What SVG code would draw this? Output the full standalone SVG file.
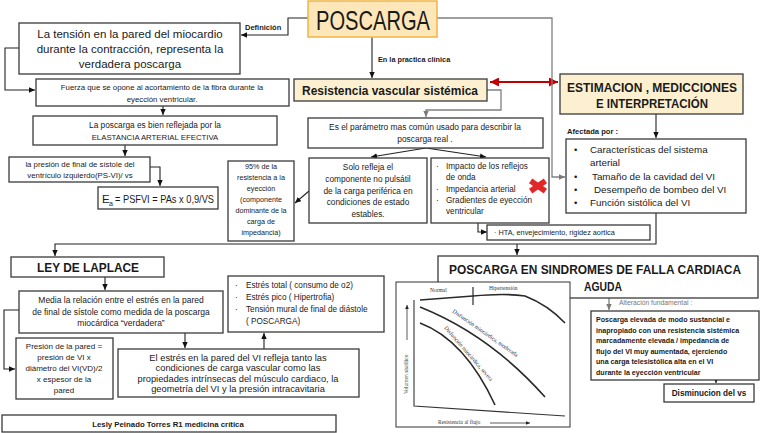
<svg xmlns="http://www.w3.org/2000/svg" width="768" height="433" viewBox="0 0 768 433">
<defs>
<marker id="ah" viewBox="0 0 10 10" refX="10" refY="5" markerWidth="6" markerHeight="6" markerUnits="userSpaceOnUse" orient="auto"><path d="M0,0.5 L10,5 L0,9.5z" fill="#111"/></marker>
<marker id="ahg" viewBox="0 0 10 10" refX="10" refY="5" markerWidth="6" markerHeight="6" markerUnits="userSpaceOnUse" orient="auto"><path d="M0,0.5 L10,5 L0,9.5z" fill="#7a7a7a"/></marker>
<marker id="ahr" viewBox="0 0 10 10" refX="10" refY="5" markerWidth="9" markerHeight="9" markerUnits="userSpaceOnUse" orient="auto-start-reverse"><path d="M0,0 L10,5 L0,10z" fill="#c00000"/></marker>
<marker id="ahs" viewBox="0 0 10 10" refX="10" refY="5" markerWidth="4" markerHeight="4" markerUnits="userSpaceOnUse" orient="auto"><path d="M0,0.5 L10,5 L0,9.5z" fill="#222"/></marker>
<style>
.b{fill:#fff;stroke:#3a3a3a;stroke-width:1.3}
.y{fill:#fdf0d0;stroke:#3a3a3a;stroke-width:1.3}
text{font-family:"Liberation Sans",Arial,sans-serif;fill:#1a1a1a}
.c{text-anchor:middle}
.bd{font-weight:bold}
.ln{fill:none;stroke:#222;stroke-width:1.1}
.lg{fill:none;stroke:#808080;stroke-width:1.3}
.sf{font-family:"Liberation Serif","Times New Roman",serif;fill:#333}
.cv{fill:none;stroke:#2a2a2a;stroke-width:1.6}
</style>
</defs>
<rect x="0" y="0" width="768" height="433" fill="#fff"/>

<g id="connectors">
<path class="ln" d="M308,18 H288 V35 H241" marker-end="url(#ah)"/>
<path class="ln" d="M19,48 H5 V90 H35" marker-end="url(#ah)"/>
<path class="ln" d="M163,106 V115" marker-end="url(#ah)"/>
<path class="ln" d="M125,145 V156" marker-end="url(#ah)"/>
<path class="ln" d="M150,167 H160 V186" marker-end="url(#ah)"/>
<path class="ln" d="M372,37 V78" marker-end="url(#ah)"/>
<path d="M490,82 H558" fill="none" stroke="#c00000" stroke-width="2" marker-start="url(#ahr)" marker-end="url(#ahr)"/>
<path class="lg" d="M437,18 H552 V177 H565" marker-end="url(#ahg)"/>
<path class="lg" d="M487,90 H501 V110 H426 V117" marker-end="url(#ahg)"/>
<path class="ln" d="M426,148 L371,157" marker-end="url(#ah)"/>
<path class="ln" d="M426,148 L486,157" marker-end="url(#ah)"/>
<path class="ln" d="M309,191 L295,203" marker-end="url(#ah)"/>
<path class="ln" d="M478,223 V232 H487" marker-end="url(#ah)"/>
<path class="ln" d="M656,114 V138" marker-end="url(#ah)"/>
<path class="ln" d="M656,213 V244 H55 V256" marker-end="url(#ah)"/>
<path class="ln" d="M517,244 V255" marker-end="url(#ah)"/>
<path class="ln" d="M105,277 V290" marker-end="url(#ah)"/>
<path class="ln" d="M19,310 H4 V369 H15" marker-end="url(#ah)"/>
<path class="ln" d="M185,333 V348" marker-end="url(#ah)"/>
<path class="ln" d="M264,349 V333" marker-end="url(#ah)"/>
<path class="lg" d="M609,298 V310" marker-end="url(#ahg)"/>
<path class="ln" d="M716,374 V383" marker-end="url(#ah)"/>
<text x="245" y="30" font-size="7.5" class="bd">Definición</text>
<text x="378" y="62" font-size="7.3" class="bd">En la  practica clínica</text>
<text x="619" y="305" font-size="6.8" style="fill:#777">Alteración fundamental :</text>
<text x="567" y="134" font-size="7.6" class="bd">Afectada  por :</text>
</g>

<g id="poscarga">
<rect x="308" y="1" width="129" height="36" fill="#fde6b8" stroke="#f2b441" stroke-width="1.5"/>
<text x="373" y="30" font-size="27" class="c" textLength="114" lengthAdjust="spacingAndGlyphs">POSCARGA</text>
</g>

<g id="tension">
<rect class="b" x="19" y="23" width="221" height="51"/>
<text x="130" y="38" font-size="11.5" class="c">La tensión  en la  pared del  miocardio</text>
<text x="130" y="53" font-size="11.5" class="c">durante la contracción, representa la</text>
<text x="130" y="68" font-size="11.5" class="c">verdadera  poscarga</text>
</g>

<g id="fuerza">
<rect class="b" x="36" y="79" width="253" height="27"/>
<text x="162" y="90" font-size="7.8" class="c">Fuerza que se opone al acortamiento de la fibra durante la</text>
<text x="162" y="102" font-size="7.8" class="c">eyección ventricular.</text>
</g>

<g id="elastancia">
<rect class="b" x="33" y="116" width="244" height="29"/>
<text x="155" y="128" font-size="8.3" class="c">La poscarga  es bien reflejada  por la</text>
<text x="155" y="140" font-size="7.8" class="c">ELASTANCIA  ARTERIAL EFECTIVA</text>
</g>

<g id="presion-final">
<rect class="b" x="9" y="157" width="141" height="25"/>
<text x="80" y="167" font-size="7.8" class="c">la presión de  final de sístole del</text>
<text x="80" y="178" font-size="7.8" class="c">ventrículo izquierdo(PS-VI)/ vs</text>
</g>

<g id="ea">
<rect class="b" x="98" y="187" width="120" height="22"/>
<text x="102" y="203" font-size="11.5">E</text>
<text x="109" y="206" font-size="7">a</text>
<text x="115" y="203" font-size="11" textLength="99" lengthAdjust="spacingAndGlyphs">= PSFVI = PAs x 0,9/VS</text>
</g>

<g id="p95">
<rect class="b" x="228" y="161" width="66" height="80"/>
<text x="261" y="169" font-size="7.2" class="c">95% de la</text>
<text x="261" y="180" font-size="7.2" class="c">resistencia a la</text>
<text x="261" y="191" font-size="7.2" class="c">eyección</text>
<text x="261" y="202" font-size="7.2" class="c">(componente</text>
<text x="261" y="213" font-size="7.2" class="c">dominante de la</text>
<text x="261" y="224" font-size="7.2" class="c">carga de</text>
<text x="261" y="235" font-size="7.2" class="c">impedancia)</text>
</g>

<g id="resistencia">
<rect class="y" x="294" y="79" width="193" height="22"/>
<text x="390" y="95" font-size="13.5" class="c bd" textLength="176" lengthAdjust="spacingAndGlyphs">Resistencia vascular sistémica</text>
</g>

<g id="parametro">
<rect class="b" x="308" y="118" width="235" height="30"/>
<text x="425" y="130" font-size="8.4" class="c">Es el parámetro mas común  usado para describir  la</text>
<text x="425" y="142" font-size="8.4" class="c">poscarga  real .</text>
</g>

<g id="solo">
<rect class="b" x="309" y="158" width="118" height="65"/>
<text x="368" y="170" font-size="8.3" class="c">Solo  refleja  el</text>
<text x="368" y="182" font-size="8.3" class="c">componente no pulsátil</text>
<text x="368" y="194" font-size="8.3" class="c">de la carga periférica  en</text>
<text x="368" y="205" font-size="8.3" class="c">condiciones de estado</text>
<text x="368" y="217" font-size="8.3" class="c">estables.</text>
</g>

<g id="impacto">
<rect class="b" x="431" y="158" width="118" height="65"/>
<text x="436" y="169" font-size="8.2">·</text><text x="446" y="169" font-size="8.2">Impacto de los reflejos</text>
<text x="446" y="180" font-size="8.2">de onda</text>
<text x="436" y="192" font-size="8.2">·</text><text x="446" y="192" font-size="8.2">Impedancia arterial</text>
<text x="436" y="203" font-size="8.2">·</text><text x="446" y="203" font-size="8.2">Gradientes de  eyección</text>
<text x="446" y="214" font-size="8.2">ventricular</text>
<g transform="translate(538,186)" fill="#e02828">
<rect x="-9" y="-2.8" width="18" height="5.6" transform="rotate(35)"/>
<rect x="-9" y="-2.8" width="18" height="5.6" transform="rotate(-35)"/>
</g>
</g>

<g id="hta">
<rect class="b" x="487" y="225" width="163" height="15"/>
<text x="494" y="235" font-size="7.3">·  HTA, envejecimiento, rigidez aortica</text>
</g>

<g id="estimacion">
<rect class="y" x="560" y="74" width="183" height="40"/>
<text x="652" y="92" font-size="12.5" class="c bd" textLength="170" lengthAdjust="spacingAndGlyphs">ESTIMACION , MEDICCIONES</text>
<text x="652" y="108" font-size="12.5" class="c bd" textLength="112" lengthAdjust="spacingAndGlyphs">E INTERPRETACIÓN</text>
</g>

<g id="caracteristicas">
<rect class="b" x="566" y="139" width="180" height="74"/>
<text x="574" y="153" font-size="9.5">•</text><text x="590" y="153" font-size="9.8">Características del sistema</text>
<text x="590" y="166" font-size="9.8">arterial</text>
<text x="574" y="180" font-size="9.5">•</text><text x="592" y="180" font-size="9.8">Tamaño de la  cavidad del VI</text>
<text x="574" y="193" font-size="9.5">•</text><text x="594" y="193" font-size="9.8">Desempeño de  bombeo del VI</text>
<text x="574" y="206" font-size="9.5">•</text><text x="590" y="206" font-size="9.8">Función sistólica del VI</text>
</g>

<g id="laplace">
<rect class="b" x="11" y="257" width="153" height="20"/>
<text x="88" y="272" font-size="12.5" class="c bd" textLength="102" lengthAdjust="spacingAndGlyphs">LEY DE LAPLACE</text>
</g>

<g id="sindromes">
<rect class="b" x="438" y="256" width="320" height="42"/>
<text x="595" y="274" font-size="13" class="c bd" textLength="292" lengthAdjust="spacingAndGlyphs">POSCARGA EN SINDROMES DE  FALLA CARDIACA</text>
<text x="603" y="291" font-size="13" class="c bd" textLength="38" lengthAdjust="spacingAndGlyphs">AGUDA</text>
</g>

<g id="grafica">
<rect x="396" y="282" width="174" height="145" fill="#fff" stroke="#333" stroke-width="1"/>
<path d="M414,300 V406 L565,416" fill="none" stroke="#333" stroke-width="1.1"/>
<path d="M407,340 V305" fill="none" stroke="#333" stroke-width="0.8" marker-end="url(#ahs)"/>
<path d="M490,423 H530" fill="none" stroke="#333" stroke-width="0.8" marker-end="url(#ahs)"/>
<text class="sf" x="0" y="0" font-size="5.5" transform="translate(408,394) rotate(-90)">Volumen sistólico</text>
<text class="sf" x="438" y="424" font-size="5.5">Resistencia al flujo</text>
<path class="cv" d="M420,300 L473,296 Q505,293 525,296 Q548,305 565,323"/>
<path d="M473,287 V305" stroke="#2a2a2a" stroke-width="1.2"/>
<text class="sf" x="430" y="292" font-size="5.5">Normal</text>
<text class="sf" x="489" y="290" font-size="5.5">Hipertensión</text>
<path class="cv" d="M420,307 Q490,335 545,397"/>
<path class="cv" d="M420,323 Q465,340 495,405"/>
<text class="sf" font-size="5.8" transform="translate(452,312) rotate(35)">Disfunción miocárdica, moderada</text>
<text class="sf" font-size="5.8" transform="translate(444,328) rotate(49)">Disfunción miocárdica, severa</text>
</g>

<g id="alteracion">
<rect class="b" x="591" y="311" width="168" height="69"/>
<text x="596" y="322" font-size="7.1" class="bd">Poscarga elevada de modo sustancial e</text>
<text x="596" y="332.5" font-size="7.1" class="bd">inapropiado con una resistencia sistémica</text>
<text x="596" y="343" font-size="7.1" class="bd">marcadamente elevada / impedancia de</text>
<text x="596" y="353.5" font-size="7.1" class="bd">flujo  del VI muy aumentada, ejerciendo</text>
<text x="596" y="364" font-size="7.1" class="bd">una  carga  telesistólica alta en el VI</text>
<text x="596" y="374.5" font-size="7.1" class="bd">durante la  eyección  ventricular</text>
</g>

<g id="disminucion">
<rect class="b" x="664" y="384" width="90" height="18"/>
<text x="709" y="396" font-size="8.2" class="c bd">Disminucion del  vs</text>
</g>

<g id="estres">
<rect class="b" x="228" y="276" width="156" height="56"/>
<text x="235" y="288" font-size="8.2">·</text><text x="246" y="288" font-size="8.2">Estrés total ( consumo de o2)</text>
<text x="235" y="300" font-size="8.2">·</text><text x="246" y="300" font-size="8.2">Estrés  pico  ( Hipertrofia)</text>
<text x="235" y="312" font-size="8.2">·</text><text x="246" y="312" font-size="8.2">Tensión mural de final de  diástole</text>
<text x="246" y="324" font-size="8.2">( POSCARGA)</text>
</g>

<g id="media">
<rect class="b" x="19" y="291" width="204" height="42"/>
<text x="121" y="303" font-size="8.5" class="c">Media  la  relación  entre  el estrés  en la  pared</text>
<text x="121" y="315" font-size="8.5" class="c">de final de  sístole como   medida de  la  poscarga</text>
<text x="121" y="326" font-size="8.5" class="c">miocárdica  “verdadera”</text>
</g>

<g id="presion-pared">
<rect class="b" x="16" y="338" width="97" height="61"/>
<text x="64" y="349" font-size="8" class="c">Presión de la  pared =</text>
<text x="64" y="360" font-size="8" class="c">presión de VI x</text>
<text x="64" y="371" font-size="8" class="c">diámetro del VI(VD)/2</text>
<text x="64" y="382" font-size="8" class="c">x espesor de  la</text>
<text x="64" y="393" font-size="8" class="c">pared</text>
</g>

<g id="estres-pared">
<rect class="b" x="118" y="349" width="241" height="48"/>
<text x="238" y="361" font-size="9.3" class="c">El estrés  en la pared  del VI  refleja  tanto las</text>
<text x="238" y="371" font-size="9.3" class="c">condiciones  de carga  vascular como las</text>
<text x="238" y="381.5" font-size="9.3" class="c">propiedades intrínsecas del músculo cardiaco, la</text>
<text x="238" y="392" font-size="9.3" class="c">geometría del VI y la presión intracavitaria</text>
</g>

<g id="autor">
<rect class="b" x="2" y="415" width="334" height="17"/>
<text x="168" y="427" font-size="7.8" class="c bd">Lesly Peinado Torres  R1 medicina crítica</text>
</g>
</svg>
